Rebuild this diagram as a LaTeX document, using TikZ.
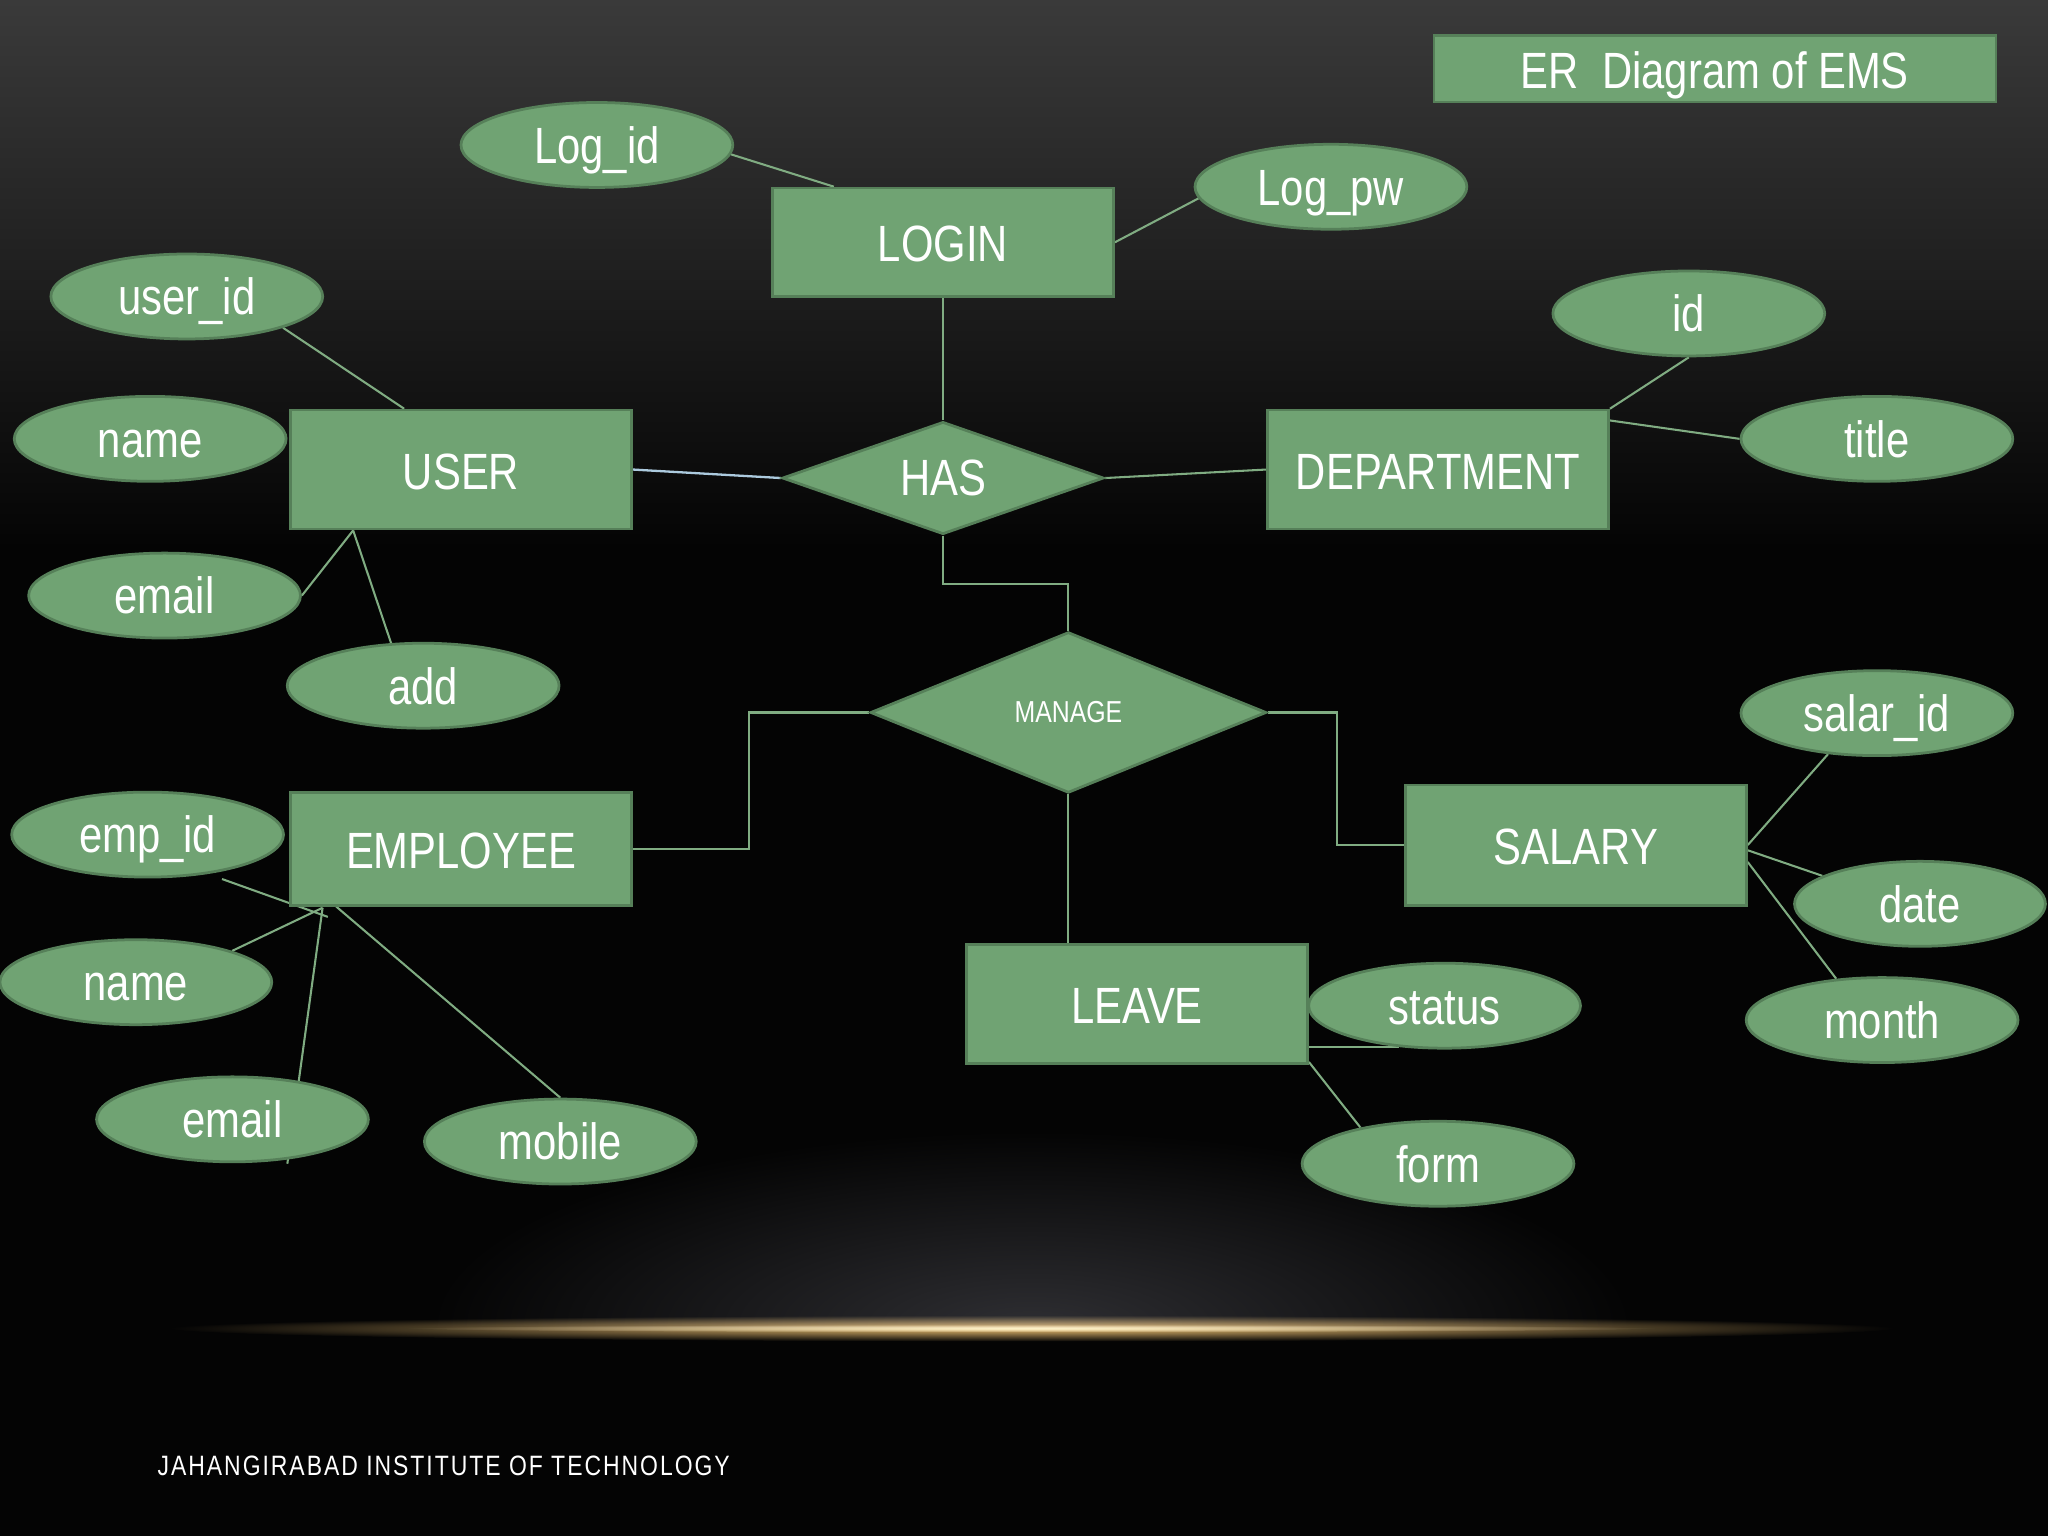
\documentclass[tikz,border=0pt]{standalone}
\usepackage{fontspec}
\setmainfont{Liberation Sans}
\newfontfamily\erfont[FakeStretch=0.82]{Liberation Sans}
\newfontfamily\footfont[FakeStretch=0.82,LetterSpace=7]{Liberation Sans}
\usetikzlibrary{shapes.geometric,calc}
\pgfdeclarelayer{bgimg}
\pgfdeclarelayer{links}
\pgfsetlayers{bgimg,links,main}
\definecolor{ergreen}{RGB}{112,163,115}
\definecolor{erborder}{RGB}{86,128,89}
\definecolor{erline}{RGB}{128,172,130}
\definecolor{erblue}{RGB}{172,202,222}
\definecolor{bgtop}{RGB}{58,58,58}
\definecolor{bgbot}{RGB}{4,4,4}
\definecolor{glowgray}{RGB}{46,46,50}
\definecolor{glowgold}{RGB}{235,190,110}
\tikzset{
  shapebase/.style={draw=erborder, line width=0.6pt, fill=ergreen, text=white, inner sep=0pt,
    font={\erfont\fontsize{11.1}{13}\selectfont}},
  ent/.style={shapebase, rectangle, minimum width=2.61cm, minimum height=0.91cm,
    text height=0.30cm, text depth=0cm},
  attr/.style={shapebase, ellipse, minimum width=2.08cm, minimum height=0.65cm,
    text height=0.33cm, text depth=0.05cm},
  rel/.style={shapebase, diamond, aspect=2.8, minimum width=2.46cm, minimum height=0.86cm},
  link/.style={draw=erline, line width=0.45pt},
  titlebox/.style={shapebase, rectangle, minimum width=4.30cm, minimum height=0.51cm,
    text height=0.30cm, text depth=0cm, font={\erfont\fontsize{11.1}{13}\selectfont}}
}
\begin{document}
\begin{tikzpicture}[x=0.01cm,y=-0.01cm]
\useasboundingbox (0,0) rectangle (1568,1176);

% ---------- background ----------
\begin{pgfonlayer}{bgimg}
\fill[bgbot] (0,0) rectangle (1568,1176);
\shade[top color=bgtop, bottom color=bgbot] (0,0) rectangle (1568,420);
\begin{scope}
  \clip (0,700) rectangle (1568,1016);
  \shade[inner color=glowgray, outer color=bgbot] (790,1016) ellipse [x radius=4.6cm, y radius=1.5cm];
\end{scope}
\begin{scope}[blend mode=screen]
  \shade[inner color=glowgold, outer color=black] (790,1017) ellipse [x radius=6.6cm, y radius=0.1cm];
  \shade[inner color=glowgold!60!white, outer color=black] (790,1017) ellipse [x radius=4.8cm, y radius=0.03cm];
\end{scope}
\end{pgfonlayer}

% ---------- title and footer ----------
\node[titlebox] (heading) at (1313,52.5) {ER~\ Diagram of EMS};
\node[anchor=west, inner sep=0pt, text=white, font={\footfont\fontsize{6.1}{7}\selectfont}] (footer) at (120,1122) {JAHANGIRABAD INSTITUTE OF TECHNOLOGY};

% ---------- entities, relations, attributes ----------
\node[ent, minimum height=0.83cm] (login) at (722,185.5) {LOGIN};
\node[attr] (logid) at (457,111) {Log\_id};
\node[attr] (logpw) at (1019,143) {Log\_pw};

\node[ent] (user) at (353,359.5) {USER};
\node[attr] (userid) at (143,227) {user\_id};
\node[attr] (uname) at (115,336) {name};
\node[attr] (uemail) at (126,456) {email};
\node[attr] (uadd) at (324,525) {add};

\node[rel] (has) at (722,366) {HAS};

\node[ent] (dept) at (1101,359.5) {DEPARTMENT};
\node[attr] (deptid) at (1293,240) {id};
\node[attr] (dtitle) at (1437,336) {title};

\node[rel, aspect=2.46, minimum width=3.03cm, minimum height=1.23cm,
      font={\erfont\fontsize{6.6}{8}\selectfont}] (manage) at (818,545.5) {MANAGE};

\node[ent, minimum height=0.86cm] (emp) at (353,650) {EMPLOYEE};
\node[attr] (empid) at (113,639) {emp\_id};
\node[attr] (ename) at (104,752) {name};
\node[attr] (eemail) at (178,857) {email};
\node[attr] (mobile) at (429,874) {mobile};

\node[ent, minimum height=0.92cm] (salary) at (1206.5,647) {SALARY};
\node[attr] (salarid) at (1437,546) {salar\_id};
\node[attr, minimum width=1.92cm] (date) at (1470,692) {date};
\node[attr] (month) at (1441,781) {month};

\node[ent] (leave) at (870.5,768.5) {LEAVE};
\node[attr] (status) at (1106,770) {status};
\node[attr] (form) at (1101,891) {form};

\coordinate (empA) at (170,673);
\coordinate (empB) at (251,702);
\coordinate (ehub) at (247,695);
\coordinate (emailtail) at (220,891);

% ---------- connectors ----------
\begin{pgfonlayer}{links}
\draw[link] (logid.-4) -- ([xshift=0.48cm]login.north west);
\draw[link] (login.east) -- (logpw.185);
\draw[link] (login.south) -- (has.north);

\draw[link] (userid.-18) -- ([xshift=0.88cm]user.north west);
\draw[link] (uemail.east) -- ([xshift=0.49cm]user.south west);
\draw[link] (uadd.127) -- ([xshift=0.49cm]user.south west);
\draw[draw=erblue, line width=0.5pt] (user.east) -- (has.west);

\draw[link] (has.east) -- (dept.west);
\draw[link] (deptid.south) -- (dept.north east);
\draw[link] ([yshift=-0.09cm]dept.north east) -- (dtitle.west);

\draw[link] (has.south) -- ++(0,37) -| (manage.north);
\draw[link] (manage.west) -- ++(-92,0) |- (emp.east);
\draw[link] (manage.east) -- ++(53,0) |- (salary.west);
\draw[link] (manage.south) -- (manage.south |- leave.north);

\draw[link] (empA) -- (empB);
\draw[link] (ename.18) -- (ehub);
\draw[link] (ehub) -- (emailtail);
\draw[link] (mobile.north) -- ([xshift=0.36cm]emp.south west);

\draw[link] (salarid.220) -- (salary.east);
\draw[link] ([yshift=-0.04cm]salary.east) -- (date.164);
\draw[link] ([yshift=-0.13cm]salary.east) -- (month.138);

\draw[link] (leave.east |- status.222) -- (status.222);
\draw[link] ([yshift=0.02cm]leave.south east) -- (form.155);
\end{pgfonlayer}
\end{tikzpicture}
\end{document}
